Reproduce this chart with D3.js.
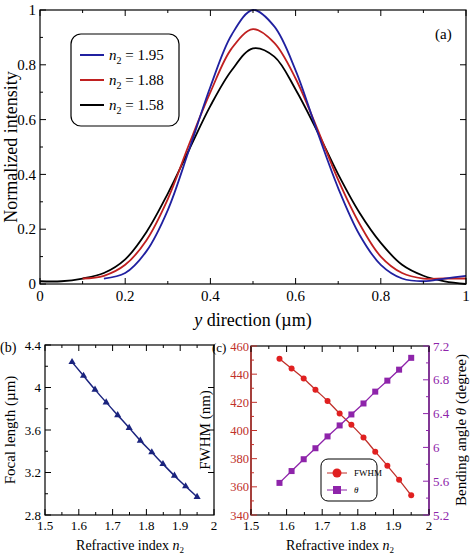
<!DOCTYPE html><html><head><meta charset="utf-8">
<script src="https://cdn.jsdelivr.net/npm/d3@7"></script>
<style>body{margin:0;background:#fff}text{font-family:"Liberation Serif",serif;}</style></head><body>
<svg id="c" width="474" height="554"></svg>
<script>
const yPos=[0,0.05,0.1,0.15,0.2,0.25,0.3,0.35,0.4,0.45,0.5,0.55,0.6,0.65,0.7,0.75,0.8,0.85,0.9,0.95,1.0];
const blueX=[0.15,0.2,0.25,0.3,0.35,0.4,0.45,0.5,0.55,0.6,0.65,0.7,0.75,0.8,0.85,0.9,0.95,1.0];
const blueY=[0.02,0.04,0.12,0.27,0.49,0.72,0.91,1.0,0.94,0.78,0.56,0.35,0.18,0.07,0.02,0.01,0.02,0.03];
const redX=[0.1,0.15,0.2,0.25,0.3,0.35,0.4,0.45,0.5,0.55,0.6,0.65,0.7,0.75,0.8,0.85,0.9,0.95,1.0];
const redY=[0.02,0.03,0.07,0.16,0.31,0.51,0.7,0.86,0.93,0.88,0.75,0.57,0.38,0.22,0.1,0.04,0.02,0.02,0.02];
const blackY=[0.01,0.01,0.02,0.04,0.09,0.19,0.33,0.49,0.65,0.78,0.86,0.83,0.71,0.56,0.4,0.26,0.15,0.07,0.03,0.01,0.0];
const nVals=[1.58,1.614,1.648,1.681,1.715,1.749,1.782,1.816,1.849,1.883,1.916,1.95];
const focal=[4.24,4.11,3.98,3.86,3.74,3.62,3.50,3.39,3.28,3.17,3.07,2.97];
const fwhm=[451,444,437,429,421,412,404,395,385,375,365,354];
const theta=[5.58,5.72,5.86,5.99,6.13,6.26,6.39,6.52,6.66,6.79,6.92,7.06];
const legendN=["1.95","1.88","1.58"];
const legendC=["#2020a0","#c02020","#000"];
const svg=d3.select("#c");
function frame(g,x,y){
  const [x0,x1]=x.range(),[y0,y1]=y.range();
  g.append("rect").attr("x",x0).attr("y",y1).attr("width",x1-x0).attr("height",y0-y1).attr("fill","none").attr("stroke","#000").attr("stroke-width",1.2);
}
function ticks(g,x,y,xt,yt,xfmt,yfmt,fs,ycol,side,minorX,minorY){
  const [x0,x1]=x.range(),[y0,y1]=y.range();
  ycol=ycol||"#000";
  xt.forEach(v=>{g.append("line").attr("x1",x(v)).attr("x2",x(v)).attr("y1",y0).attr("y2",y0-6).attr("stroke","#000");
    g.append("line").attr("x1",x(v)).attr("x2",x(v)).attr("y1",y1).attr("y2",y1+6).attr("stroke","#000");
    g.append("text").attr("x",x(v)).attr("y",y0+fs+2).attr("text-anchor","middle").attr("font-size",fs).text(xfmt(v));});
  minorX.forEach(v=>{g.append("line").attr("x1",x(v)).attr("x2",x(v)).attr("y1",y0).attr("y2",y0-3).attr("stroke","#000");
    g.append("line").attr("x1",x(v)).attr("x2",x(v)).attr("y1",y1).attr("y2",y1+3).attr("stroke","#000");});
  const px=side==="right"?x1:x0, d=side==="right"?-1:1;
  yt.forEach(v=>{g.append("line").attr("x1",px).attr("x2",px+6*d).attr("y1",y(v)).attr("y2",y(v)).attr("stroke",ycol);
    g.append("text").attr("x",px-4*d).attr("y",y(v)+fs*0.35).attr("text-anchor",side==="right"?"start":"end").attr("font-size",fs).attr("fill",ycol).text(yfmt(v));});
  minorY.forEach(v=>g.append("line").attr("x1",px).attr("x2",px+3*d).attr("y1",y(v)).attr("y2",y(v)).attr("stroke",ycol));
}
// Panel a
const xa=d3.scaleLinear().domain([0,1]).range([40,466]);
const ya=d3.scaleLinear().domain([0,1]).range([284,10]);
const ga=svg.append("g");
const line=d3.line().curve(d3.curveCatmullRom);
ga.append("path").attr("d",line(yPos.map((v,i)=>[xa(v),ya(blackY[i])]))).attr("fill","none").attr("stroke","#000").attr("stroke-width",1.8);
ga.append("path").attr("d",line(redX.map((v,i)=>[xa(v),ya(redY[i])]))).attr("fill","none").attr("stroke","#c02020").attr("stroke-width",1.8);
ga.append("path").attr("d",line(blueX.map((v,i)=>[xa(v),ya(blueY[i])]))).attr("fill","none").attr("stroke","#2020a0").attr("stroke-width",1.8);
frame(ga,xa,ya);
ticks(ga,xa,ya,[0,0.2,0.4,0.6,0.8,1],[0,0.2,0.4,0.6,0.8,1],v=>v===0||v===1?v:v.toFixed(1),v=>v===0||v===1?v:v.toFixed(1),15,null,"left",[0.1,0.3,0.5,0.7,0.9],[0.1,0.3,0.5,0.7,0.9]);
[0.2,0.4,0.6,0.8].forEach(v=>ga.append("line").attr("x1",466).attr("x2",460).attr("y1",ya(v)).attr("y2",ya(v)).attr("stroke","#000"));
ga.append("text").attr("x",435).attr("y",39).attr("font-size",15).text("(a)");
ga.append("text").attr("transform","translate(17,147) rotate(-90)").attr("text-anchor","middle").attr("font-size",18).text("Normalized intensity");
const xl=ga.append("text").attr("x",253).attr("y",326).attr("text-anchor","middle").attr("font-size",18);
xl.append("tspan").attr("font-style","italic").text("y");xl.append("tspan").text(" direction (µm)");
ga.append("rect").attr("x",71).attr("y",34).attr("width",108).attr("height",92).attr("rx",10).attr("fill","#fff").attr("stroke","#000").attr("stroke-width",1.2);
legendN.forEach((n,i)=>{const yy=55+i*25;
  ga.append("line").attr("x1",80).attr("x2",104).attr("y1",yy).attr("y2",yy).attr("stroke",legendC[i]).attr("stroke-width",2);
  const t=ga.append("text").attr("x",109).attr("y",yy+5).attr("font-size",15);
  t.append("tspan").attr("font-style","italic").text("n");t.append("tspan").attr("font-size",10).attr("dy",4).text("2");
  t.append("tspan").attr("dy",-4).text(" = "+n);});
// Panel b
const xb=d3.scaleLinear().domain([1.5,2]).range([45,214]);
const yb=d3.scaleLinear().domain([2.8,4.4]).range([515,345]);
const gb=svg.append("g");
gb.append("path").attr("d",d3.line().curve(d3.curveMonotoneX)(nVals.map((v,i)=>[xb(v),yb(focal[i])]))).attr("fill","none").attr("stroke","#1a237e").attr("stroke-width",1.5);
nVals.forEach((v,i)=>gb.append("path").attr("d",d3.symbol(d3.symbolTriangle,22)()).attr("transform",`translate(${xb(v)},${yb(focal[i])})`).attr("fill","#1a237e"));
frame(gb,xb,yb);
ticks(gb,xb,yb,[1.5,1.6,1.7,1.8,1.9,2],[2.8,3.2,3.6,4,4.4],v=>v===2?"2":v.toFixed(1),v=>v===4?"4":v.toFixed(1),13,null,"left",[1.55,1.65,1.75,1.85,1.95],[3.0,3.4,3.8,4.2]);
[3.2,3.6,4].forEach(v=>gb.append("line").attr("x1",214).attr("x2",208).attr("y1",yb(v)).attr("y2",yb(v)).attr("stroke","#000"));
gb.append("text").attr("transform","translate(15,430) rotate(-90)").attr("text-anchor","middle").attr("font-size",15).text("Focal length (µm)");
const bl=gb.append("text").attr("x",130).attr("y",550).attr("text-anchor","middle").attr("font-size",14);
bl.append("tspan").text("Refractive index ");bl.append("tspan").attr("font-style","italic").text("n");bl.append("tspan").attr("font-size",9).attr("dy",3).text("2");
gb.append("text").attr("x",0).attr("y",352).attr("font-size",14).text("(b)");
// Panel c
const xc=d3.scaleLinear().domain([1.5,2]).range([251,429]);
const yc=d3.scaleLinear().domain([340,460]).range([515,346]);
const yc2=d3.scaleLinear().domain([5.2,7.2]).range([515,346]);
const gc=svg.append("g");
const red="#c0302a",pur="#8e24aa";
gc.append("path").attr("d",d3.line().curve(d3.curveMonotoneX)(nVals.map((v,i)=>[xc(v),yc(fwhm[i])]))).attr("fill","none").attr("stroke",red).attr("stroke-width",1.3);
gc.append("path").attr("d",d3.line()(nVals.map((v,i)=>[xc(v),yc2(theta[i])]))).attr("fill","none").attr("stroke",pur).attr("stroke-width",1.3);
nVals.forEach((v,i)=>{gc.append("circle").attr("cx",xc(v)).attr("cy",yc(fwhm[i])).attr("r",3).attr("fill","#e02020");
  gc.append("rect").attr("x",xc(v)-3).attr("y",yc2(theta[i])-3).attr("width",6).attr("height",6).attr("fill",pur);});
gc.append("rect").attr("x",251).attr("y",346).attr("width",178).attr("height",169).attr("fill","none").attr("stroke","#000").attr("stroke-width",1.2);
gc.append("line").attr("x1",251).attr("x2",251).attr("y1",346).attr("y2",515).attr("stroke",red).attr("stroke-width",1.4);
gc.append("line").attr("x1",429).attr("x2",429).attr("y1",346).attr("y2",515).attr("stroke",pur).attr("stroke-width",1.4);
[1.5,1.6,1.7,1.8,1.9,2].forEach(v=>{gc.append("line").attr("x1",xc(v)).attr("x2",xc(v)).attr("y1",515).attr("y2",509).attr("stroke","#000");
  gc.append("line").attr("x1",xc(v)).attr("x2",xc(v)).attr("y1",346).attr("y2",352).attr("stroke","#000");
  gc.append("text").attr("x",xc(v)).attr("y",530).attr("text-anchor","middle").attr("font-size",13).text(v===2?"2":v.toFixed(1));});
[1.55,1.65,1.75,1.85,1.95].forEach(v=>{gc.append("line").attr("x1",xc(v)).attr("x2",xc(v)).attr("y1",515).attr("y2",512).attr("stroke","#000");gc.append("line").attr("x1",xc(v)).attr("x2",xc(v)).attr("y1",346).attr("y2",349).attr("stroke","#000");});
[340,360,380,400,420,440,460].forEach(v=>{gc.append("line").attr("x1",251).attr("x2",257).attr("y1",yc(v)).attr("y2",yc(v)).attr("stroke",red);
  gc.append("text").attr("x",249).attr("y",yc(v)+4.5).attr("text-anchor","end").attr("font-size",12.5).attr("fill",red).text(v);});
[350,370,390,410,430,450].forEach(v=>gc.append("line").attr("x1",251).attr("x2",254).attr("y1",yc(v)).attr("y2",yc(v)).attr("stroke",red));
[5.2,5.6,6,6.4,6.8,7.2].forEach(v=>{gc.append("line").attr("x1",429).attr("x2",423).attr("y1",yc2(v)).attr("y2",yc2(v)).attr("stroke",pur);
  gc.append("text").attr("x",433).attr("y",yc2(v)+4.5).attr("font-size",13).attr("fill",pur).text(v===6?"6":v.toFixed(1));});
[5.4,5.8,6.2,6.6,7.0].forEach(v=>gc.append("line").attr("x1",429).attr("x2",426).attr("y1",yc2(v)).attr("y2",yc2(v)).attr("stroke",pur));
gc.append("text").attr("transform","translate(210,430) rotate(-90)").attr("text-anchor","middle").attr("font-size",15).text("FWHM (nm)");
const tl=gc.append("text").attr("transform","translate(466,430) rotate(-90)").attr("text-anchor","middle").attr("font-size",15);
tl.append("tspan").text("Bending angle ");tl.append("tspan").attr("font-style","italic").text("θ");tl.append("tspan").text(" (degree)");
const cl=gc.append("text").attr("x",340).attr("y",550).attr("text-anchor","middle").attr("font-size",14);
cl.append("tspan").text("Refractive index ");cl.append("tspan").attr("font-style","italic").text("n");cl.append("tspan").attr("font-size",9).attr("dy",3).text("2");
gc.append("text").attr("x",212).attr("y",352).attr("font-size",13).text("(c)");
gc.append("rect").attr("x",321).attr("y",459).attr("width",56).attr("height",42).attr("rx",7).attr("fill","#fff").attr("stroke","#000");
gc.append("line").attr("x1",327).attr("x2",347).attr("y1",473).attr("y2",473).attr("stroke",red);
gc.append("circle").attr("cx",337).attr("cy",473).attr("r",4.5).attr("fill","#e02020");
gc.append("text").attr("x",354).attr("y",476).attr("font-size",9).text("FWHM");
gc.append("line").attr("x1",327).attr("x2",347).attr("y1",490).attr("y2",490).attr("stroke",pur);
gc.append("rect").attr("x",333).attr("y",486).attr("width",8).attr("height",8).attr("fill",pur);
gc.append("text").attr("x",354).attr("y",493).attr("font-size",9).attr("font-style","italic").text("θ");
</script></body></html>
